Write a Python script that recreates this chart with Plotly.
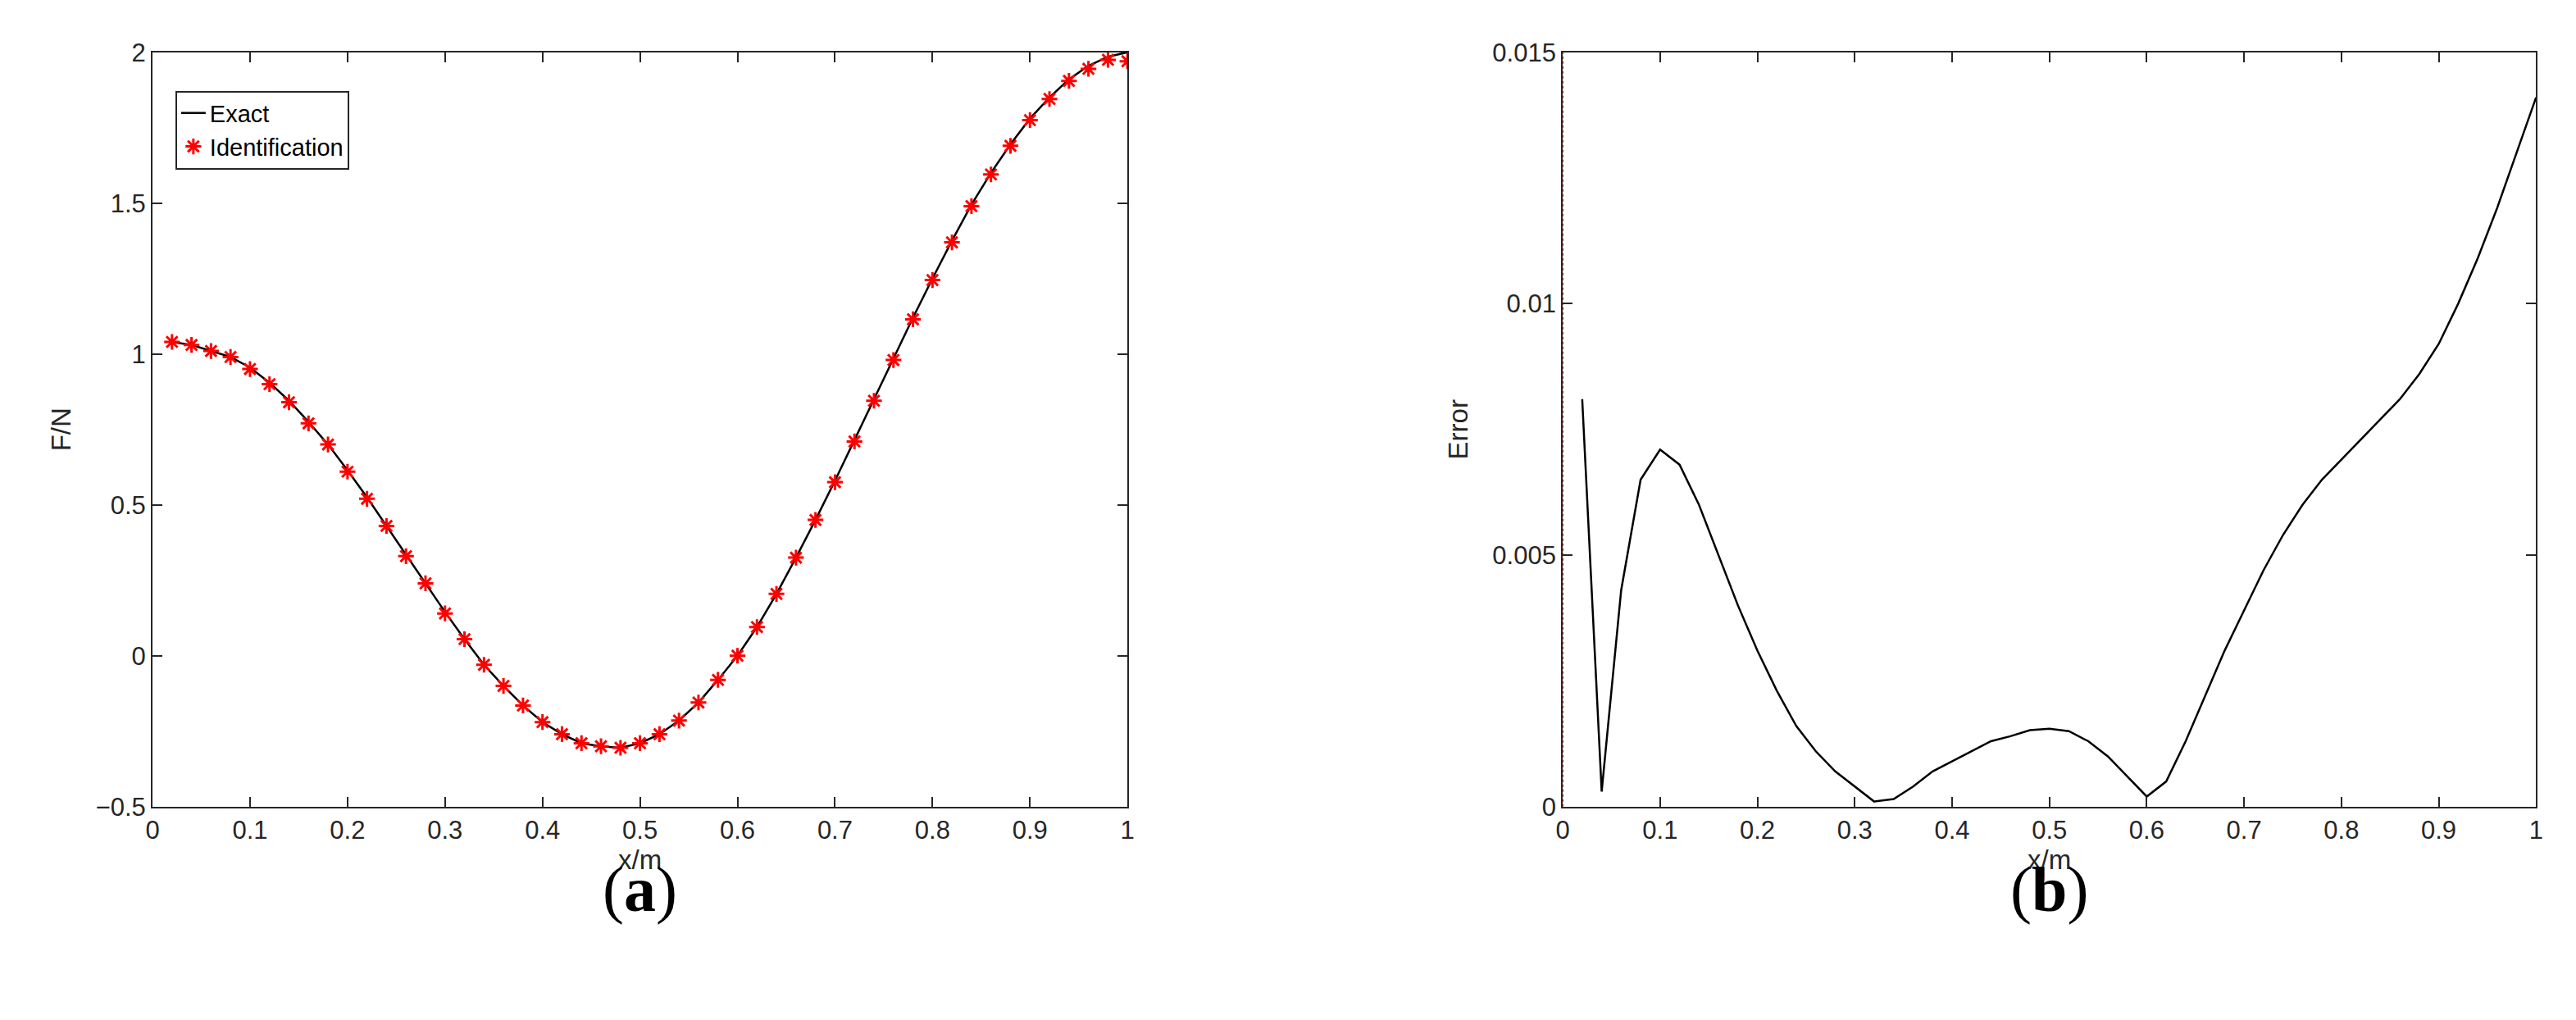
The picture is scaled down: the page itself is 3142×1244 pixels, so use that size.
import plotly.graph_objects as go

x = [round(0.02 * i, 2) for i in range(1, 51)]
exact = [1.04, 1.03, 1.01, 0.99, 0.955, 0.905, 0.845, 0.775, 0.70, 0.615, 0.525, 0.43, 0.335, 0.24, 0.145,
         0.055, -0.03, -0.10, -0.165, -0.22, -0.26, -0.29, -0.30, -0.305, -0.29, -0.26, -0.215, -0.155,
         -0.08, 0.0, 0.095, 0.205, 0.325, 0.45, 0.58, 0.715, 0.85, 0.985, 1.12, 1.25, 1.375, 1.495, 1.60,
         1.695, 1.78, 1.85, 1.91, 1.955, 1.985, 2.0]
ident = [1.04, 1.03, 1.01, 0.99, 0.95, 0.90, 0.84, 0.77, 0.70, 0.61, 0.52, 0.43, 0.33, 0.24, 0.14,
         0.055, -0.03, -0.10, -0.165, -0.22, -0.26, -0.29, -0.30, -0.305, -0.29, -0.26, -0.215, -0.155,
         -0.08, 0.0, 0.095, 0.205, 0.325, 0.45, 0.575, 0.71, 0.845, 0.98, 1.115, 1.245, 1.37, 1.49, 1.595,
         1.69, 1.775, 1.845, 1.905, 1.945, 1.975, 1.97]
error = [0.0081, 0.0003, 0.0043, 0.0065, 0.0071, 0.0068, 0.0060, 0.0050, 0.0040, 0.0031, 0.0023, 0.0016,
         0.0011, 0.0007, 0.0004, 0.0001, 0.00015, 0.0004, 0.0007, 0.0009, 0.0011, 0.0013, 0.0014, 0.00152,
         0.00155, 0.0015, 0.0013, 0.0010, 0.0006, 0.0002, 0.0005, 0.0013, 0.0022, 0.0031, 0.0039, 0.0047,
         0.0054, 0.0060, 0.0065, 0.0069, 0.0073, 0.0077, 0.0081, 0.0086, 0.0092, 0.0100, 0.0109, 0.0119,
         0.0130, 0.0141]
xticks = [0, 0.1, 0.2, 0.3, 0.4, 0.5, 0.6, 0.7, 0.8, 0.9, 1]
xticklabels = ["0", "0.1", "0.2", "0.3", "0.4", "0.5", "0.6", "0.7", "0.8", "0.9", "1"]
yticks_a = [-0.5, 0, 0.5, 1, 1.5, 2]
yticks_b = [0, 0.005, 0.01, 0.015]

font = "Liberation Sans, Arial, sans-serif"
fig = go.Figure()
fig.add_trace(go.Scatter(x=x, y=exact, mode="lines", name="Exact", line=dict(color="black", width=2.5),
                         xaxis="x", yaxis="y"))
fig.add_trace(go.Scatter(x=x, y=ident, mode="markers", name="Identification",
                         marker=dict(symbol="asterisk", size=16, line=dict(color="red", width=3), color="red"),
                         xaxis="x", yaxis="y"))
fig.add_trace(go.Scatter(x=[0, 0], y=[0, 0.015], mode="lines", line=dict(color="red", dash="dot", width=2),
                         showlegend=False, xaxis="x2", yaxis="y2"))
fig.add_trace(go.Scatter(x=x, y=error, mode="lines", line=dict(color="black", width=2.5),
                         showlegend=False, xaxis="x2", yaxis="y2"))

ax = dict(showgrid=False, zeroline=False, showline=True, linecolor="#262626", linewidth=2, mirror="ticks",
          ticks="inside", ticklen=12, tickwidth=2, tickcolor="#262626",
          tickfont=dict(family=font, size=31, color="#262626"))
fig.update_layout(
    width=3142, height=1244, paper_bgcolor="white", plot_bgcolor="white",
    margin=dict(l=0, r=0, t=0, b=0), font=dict(family=font, color="#262626"),
    xaxis=dict(ax, domain=[170/3142, 1366/3142], range=[0, 1], tickvals=xticks, ticktext=xticklabels,
               title=dict(text="x/m", font=dict(size=33), standoff=8), anchor="y"),
    yaxis=dict(ax, domain=[0.207, 0.968], range=[-0.5, 2], tickvals=yticks_a,
               title=dict(text="F/N", font=dict(size=33), standoff=20), anchor="x"),
    xaxis2=dict(ax, domain=[1900/3142, 3094/3142], range=[0, 1], tickvals=xticks, ticktext=xticklabels,
                title=dict(text="x/m", font=dict(size=33), standoff=8), anchor="y2"),
    yaxis2=dict(ax, domain=[0.207, 0.968], range=[0, 0.015], tickvals=yticks_b,
                ticktext=["0", "0.005", "0.01", "0.015"],
                title=dict(text="Error", font=dict(size=33), standoff=20), anchor="x2"),
    legend=dict(x=198/3142, y=1-88/1244, xanchor="left", yanchor="top", bgcolor="white",
                bordercolor="#262626", borderwidth=2, font=dict(size=29, color="black"), tracegroupgap=0),
    annotations=[
        dict(text="(<b>a</b>)", x=(170+1366)/2/3142, y=1-1090/1244, xref="paper", yref="paper",
             xanchor="center", yanchor="middle", showarrow=False,
             font=dict(family="Liberation Serif, Times New Roman, serif", size=78, color="black")),
        dict(text="(<b>b</b>)", x=(1900+3094)/2/3142, y=1-1090/1244, xref="paper", yref="paper",
             xanchor="center", yanchor="middle", showarrow=False,
             font=dict(family="Liberation Serif, Times New Roman, serif", size=78, color="black")),
    ],
)
fig.write_html("out.html")
